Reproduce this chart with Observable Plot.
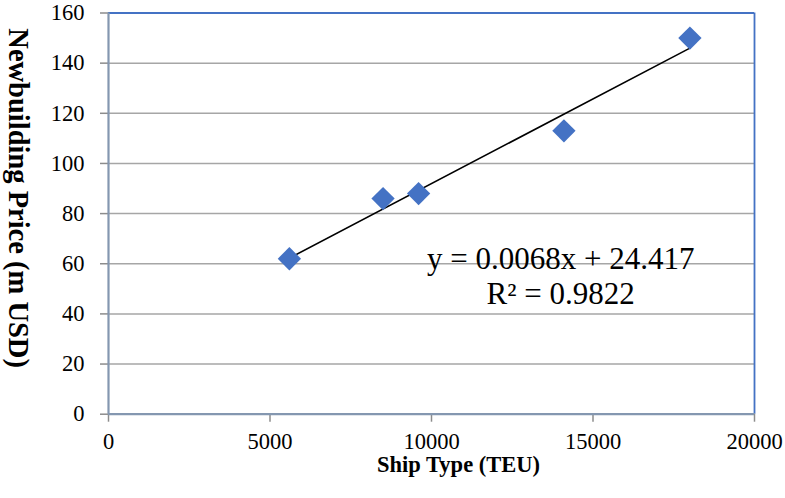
<!DOCTYPE html>
<html>
<head>
<meta charset="utf-8">
<script src="https://cdn.jsdelivr.net/npm/d3@7"></script>
<script src="https://cdn.jsdelivr.net/npm/@observablehq/plot@0.6"></script>
<style>
  html, body { margin: 0; padding: 0; background: #fff; }
  #chart svg { display: block; }
</style>
</head>
<body>
<div id="chart"></div>
<script>
const shipTEU = [5600, 8500, 9600, 14100, 18000];
const priceMUSD = [62, 86, 88, 113, 150];
const xTicks = [0, 5000, 10000, 15000, 20000];
const yTicks = [0, 20, 40, 60, 80, 100, 120, 140, 160];
const equationLines = ["y = 0.0068x + 24.417", "R² = 0.9822"];
const equationAnchor = [{x: 14000, y: 44}];

const data = shipTEU.map((x, i) => ({x, y: priceMUSD[i]}));
const serif = "'Liberation Serif', 'Times New Roman', serif";

const chart = Plot.plot({
  width: 785,
  height: 498,
  marginLeft: 108,
  marginRight: 31,
  marginTop: 12.5,
  marginBottom: 84.3,
  style: {fontFamily: serif, fontSize: "21px", color: "#000", background: "#fff", overflow: "visible"},
  x: {domain: [0, 20000]},
  y: {domain: [0, 160]},
  marks: [
    Plot.ruleY(yTicks.slice(1, -1), {stroke: "#a6a6a6", strokeWidth: 1.5}),
    Plot.ruleY([yTicks[yTicks.length - 1]], {stroke: "#4472c4", strokeWidth: 1.8}),
    Plot.ruleX([xTicks[xTicks.length - 1]], {stroke: "#4472c4", strokeWidth: 1.8}),
    Plot.axisX({ticks: xTicks, tickSize: 8, text: null, label: null, stroke: "#8c8c8c", strokeWidth: 1.5}),
    Plot.axisY({ticks: yTicks, tickSize: 8, text: null, label: null, stroke: "#8c8c8c", strokeWidth: 1.5}),
    Plot.axisX({ticks: xTicks, tickSize: 0, tickPadding: 19, tickFormat: d3.format("d"), fill: "#000", label: null, fontSize: 22.5, fontFamily: serif}),
    Plot.axisY({ticks: yTicks, tickSize: 0, tickPadding: 24, tickFormat: d3.format("d"), fill: "#000", label: null, fontSize: 22.5, fontFamily: serif}),
    Plot.ruleX([0], {stroke: "#8497b0", strokeWidth: 2.2}),
    Plot.ruleY([0], {stroke: "#8497b0", strokeWidth: 2.2}),
    Plot.linearRegressionY(data, {x: "x", y: "y", ci: 0, stroke: "#000", strokeWidth: 1.6}),
    Plot.dot(data, {x: "x", y: "y", symbol: "diamond2", r: 10.5, fill: "#4472c4", stroke: "none"}),
    Plot.text(equationAnchor, {x: "x", y: "y", text: () => equationLines.join("\n"), lineAnchor: "bottom", lineHeight: 1.12, fontSize: 31, fill: "#000", textAnchor: "middle", fontFamily: serif}),
    Plot.text(["Ship Type (TEU)"], {frameAnchor: "bottom", dx: 27, dy: 58, fontSize: 22.5, fontWeight: "bold", lineAnchor: "bottom", fill: "#000", fontFamily: serif}),
    Plot.text(["Newbuilding Price (m USD)"], {frameAnchor: "left", textAnchor: "middle", dx: -90, dy: -15.5, rotate: 90, fontSize: 28.5, fontWeight: "bold", fill: "#000", fontFamily: serif})
  ]
});
document.getElementById("chart").appendChild(chart);
</script>
</body>
</html>
